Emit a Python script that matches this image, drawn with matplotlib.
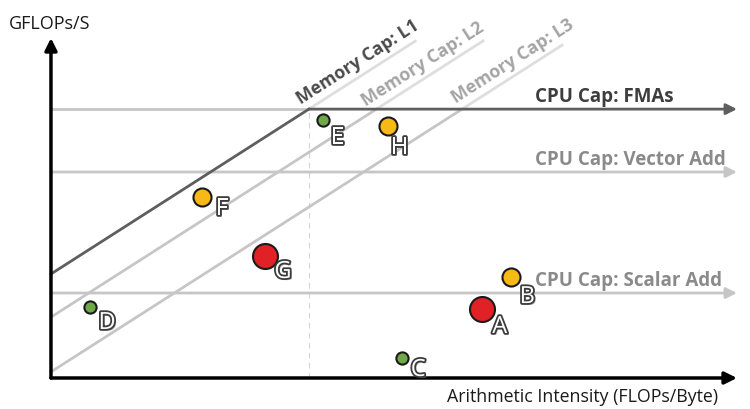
import matplotlib
matplotlib.use("Agg")
import matplotlib.pyplot as plt
import matplotlib.patheffects as pe
import numpy as np

plt.rcParams['font.family'] = ['Open Sans', 'DejaVu Sans']

# ---- data (abstract units) ----
cpu_caps = ["CPU Cap: FMAs", "CPU Cap: Vector Add", "CPU Cap: Scalar Add"]
cpu_levels = [7.91, 6.06, 2.50]
mem_caps = ["Memory Cap: L1", "Memory Cap: L2", "Memory Cap: L3"]
mem_intercepts = [3.06, 1.79, 0.18]
mem_slope = 1.29
mem_ext_end = [5.31, 6.30, 7.45]
mem_label_x = [3.71, 4.65, 5.97]

point_names = ["A", "B", "C", "D", "E", "F", "G", "H"]
point_x = [6.28, 6.71, 5.12, 0.57, 3.97, 2.20, 3.12, 4.91]
point_y = [2.03, 2.97, 0.59, 2.09, 7.59, 5.32, 3.59, 7.41]
point_kind = ["big", "mid", "small", "small", "small", "mid", "big", "mid"]

x_max = 10.0
y_max = 10.0

# ---- styles ----
kind_style = {"small": ("#6fa847", 8.8), "mid": ("#f7b916", 13.0), "big": ("#e02226", 18.0)}
label_offsets_px = {"A": (18, 18), "B": (16, 20), "C": (16, 12), "D": (17, 16),
                    "E": (14, 18), "F": (20, 12), "G": (18, 16), "H": (12, 22)}
dark = "#5e5e5e"
light = "#c6c6c6"
lighter = "#dedede"

fig = plt.figure(figsize=(7.5, 4.09), dpi=100)
ax = fig.add_axes([0, 0, 1, 1])
ax.set_xlim(-0.743, 10.19)
ax.set_ylim(-0.912, 11.12)
ax.axis("off")

ridge = (cpu_levels[0] - mem_intercepts[0]) / mem_slope

def arrow(x0, y0, x1, y1, color, lw, ms, z=2):
    ax.annotate("", xy=(x1, y1), xytext=(x0, y0),
                arrowprops=dict(arrowstyle="-|>", color=color, lw=lw,
                                mutation_scale=ms, shrinkA=0, shrinkB=0),
                zorder=z)

# light horizontal caps
ax.plot([0, ridge], [cpu_levels[0]] * 2, color=light, lw=2, solid_capstyle="butt", zorder=1)
arrow(0, cpu_levels[1], x_max, cpu_levels[1], light, 2, 16, z=1)
arrow(0, cpu_levels[2], x_max, cpu_levels[2], light, 2, 16, z=1)

# memory caps: below FMA cap normal light, above it lighter
for i, (b, e) in enumerate(zip(mem_intercepts, mem_ext_end)):
    xc = (cpu_levels[0] - b) / mem_slope
    if i > 0:
        xs = np.array([0, xc])
        ax.plot(xs, b + mem_slope * xs, color=light, lw=2, zorder=1)
    xs = np.array([xc, e])
    ax.plot(xs, b + mem_slope * xs, color=lighter, lw=2, zorder=1)

# roofline (dark)
ax.plot([0, ridge], [mem_intercepts[0], cpu_levels[0]], color=dark, lw=2, zorder=3)
arrow(ridge, cpu_levels[0], x_max, cpu_levels[0], dark, 2, 16, z=3)

# dashed vertical at ridge
ax.plot([ridge, ridge], [0, cpu_levels[0]], color="#d4d4d4", lw=0.8, ls=(0, (5, 4)), zorder=0)

# axes arrows
arrow(0, 0, x_max, 0, "black", 2.5, 18, z=4)
arrow(0, 0, 0, y_max, "black", 2.5, 18, z=4)

# axis labels
ax.text(-0.62, 10.42, "GFLOPs/S", fontsize=13, color="#1a1a1a", va="center", ha="left")
ax.text(9.73, -0.56, "Arithmetic Intensity (FLOPs/Byte)", fontsize=12.8, color="#1a1a1a",
        va="center", ha="right")

# cpu cap labels
cpu_colors = ["#3d3d3d", "#8a8a8a", "#8a8a8a"]
for name, lev, c in zip(cpu_caps, cpu_levels, cpu_colors):
    ax.text(7.06, lev + 0.05, name, fontsize=13.5, fontweight="bold", color=c,
            ha="left", va="bottom")

# memory cap labels
ang = np.degrees(np.arctan(0.64))
mem_colors = ["#4a4a4a", "#a4a4a4", "#a4a4a4"]
nx, ny = -np.sin(np.radians(ang)), np.cos(np.radians(ang))
for name, b, lx, c in zip(mem_caps, mem_intercepts, mem_label_x, mem_colors):
    ax.annotate(name, xy=(lx, b + mem_slope * lx), xytext=(nx * 3, ny * 3),
                textcoords="offset points", rotation=ang, rotation_mode="anchor",
                ha="left", va="bottom", fontsize=12.8, fontweight="bold", color=c)

# points
for n, x, y, k in zip(point_names, point_x, point_y, point_kind):
    col, ms = kind_style[k]
    ax.plot(x, y, "o", ms=ms, mfc=col, mec="#1a1a1a", mew=1.5, zorder=6)
    dx, dy = label_offsets_px[n]
    ax.annotate(n, xy=(x, y), xytext=(dx * 0.72, -dy * 0.72), textcoords="offset points",
                ha="center", va="center", fontsize=17, color="white", zorder=7,
                path_effects=[pe.SimplePatchShadow(offset=(1.4, -1.4), shadow_rgbFace="#888888", alpha=0.6),
                              pe.Stroke(linewidth=2.6, foreground="#3c3c3c"), pe.Normal()])

fig.savefig("out.png", dpi=100)
